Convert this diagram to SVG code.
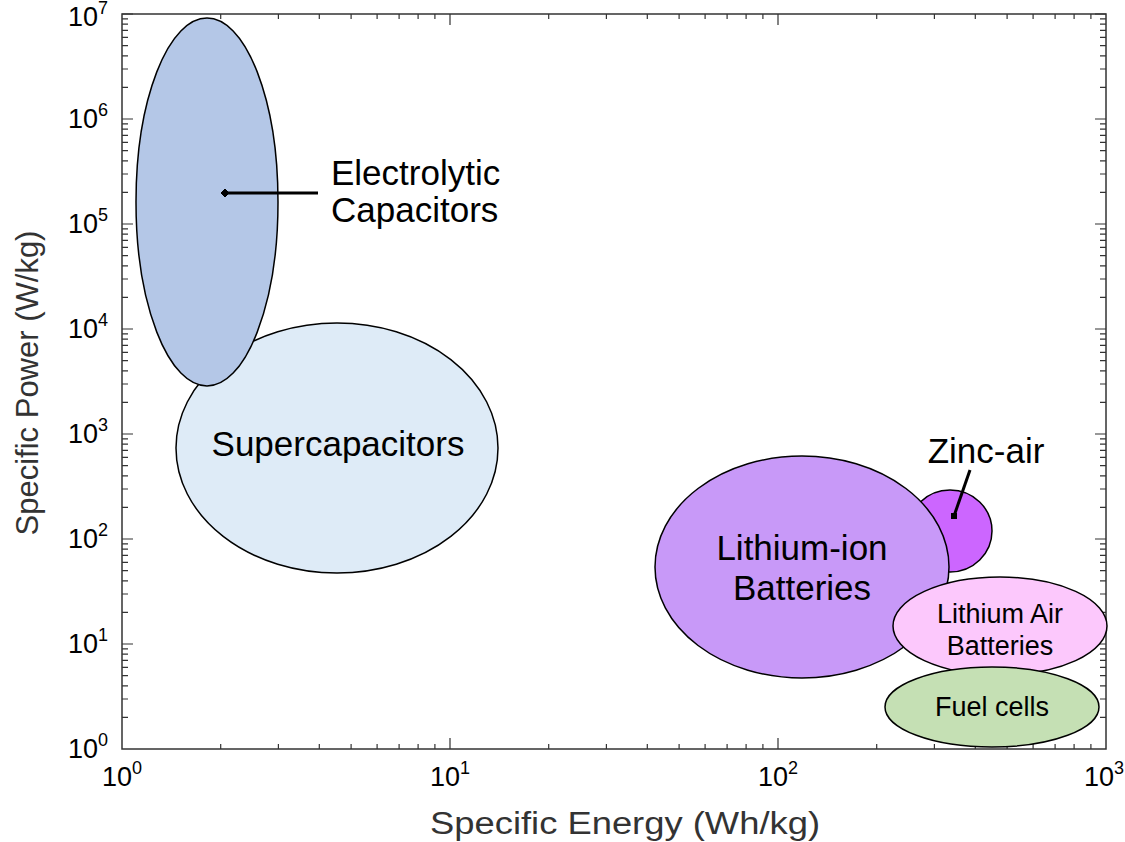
<svg xmlns="http://www.w3.org/2000/svg" width="1125" height="842" viewBox="0 0 1125 842">
<style>
text{font-family:"Liberation Sans",Arial,sans-serif;fill:#000}
.e{stroke:#000;stroke-width:1.5}
.t{font-size:27px;fill:#222}
.ax{font-size:31px;fill:#333}
.tk{stroke:#333;stroke-width:1.2;fill:none}
.lb{font-size:35px}
.sm{font-size:27px}
</style>
<rect width="1125" height="842" fill="#fff"/>
<g id="axes">
<rect x="122" y="14" width="984" height="735" fill="none" stroke="#333" stroke-width="1.5"/>
<path class="tk" d="M220.7 749v-5M278.4 749v-5M319.3 749v-5M351.1 749v-5M377.1 749v-5M399.1 749v-5M418.1 749v-5M434.9 749v-5M450 749v-11M548.7 749v-5M606.4 749v-5M647.3 749v-5M679.1 749v-5M705.1 749v-5M727.1 749v-5M746.1 749v-5M762.9 749v-5M778 749v-11M876.7 749v-5M934.4 749v-5M975.3 749v-5M1007.1 749v-5M1033.1 749v-5M1055.1 749v-5M1074.1 749v-5M1090.9 749v-5
M220.7 14v5M278.4 14v5M319.3 14v5M351.1 14v5M377.1 14v5M399.1 14v5M418.1 14v5M434.9 14v5M450 14v11M548.7 14v5M606.4 14v5M647.3 14v5M679.1 14v5M705.1 14v5M727.1 14v5M746.1 14v5M762.9 14v5M778 14v11M876.7 14v5M934.4 14v5M975.3 14v5M1007.1 14v5M1033.1 14v5M1055.1 14v5M1074.1 14v5M1090.9 14v5"/>
<path id="yt" class="tk" d="M122 717.4h6M122 699h6M122 685.8h6M122 675.6h6M122 667.3h6M122 660.3h6M122 654.2h6M122 648.8h6M122 644h11"/>
<use href="#yt" transform="translate(0,-105)"/><use href="#yt" transform="translate(0,-210)"/><use href="#yt" transform="translate(0,-315)"/><use href="#yt" transform="translate(0,-420)"/><use href="#yt" transform="translate(0,-525)"/><use href="#yt" transform="translate(0,-630)"/>
<use href="#yt" transform="translate(1228,0) scale(-1,1)"/><use href="#yt" transform="translate(1228,-105) scale(-1,1)"/><use href="#yt" transform="translate(1228,-210) scale(-1,1)"/><use href="#yt" transform="translate(1228,-315) scale(-1,1)"/><use href="#yt" transform="translate(1228,-420) scale(-1,1)"/><use href="#yt" transform="translate(1228,-525) scale(-1,1)"/><use href="#yt" transform="translate(1228,-630) scale(-1,1)"/>
<g class="t" text-anchor="end">
<text x="108" y="758">10<tspan font-size="18" dy="-12">0</tspan></text>
<text x="108" y="653">10<tspan font-size="18" dy="-12">1</tspan></text>
<text x="108" y="548">10<tspan font-size="18" dy="-12">2</tspan></text>
<text x="108" y="443">10<tspan font-size="18" dy="-12">3</tspan></text>
<text x="108" y="338">10<tspan font-size="18" dy="-12">4</tspan></text>
<text x="108" y="233">10<tspan font-size="18" dy="-12">5</tspan></text>
<text x="108" y="128">10<tspan font-size="18" dy="-12">6</tspan></text>
<text x="108" y="26">10<tspan font-size="18" dy="-12">7</tspan></text>
</g>
<g class="t" text-anchor="middle">
<text x="122" y="786">10<tspan font-size="18" dy="-12">0</tspan></text>
<text x="450" y="786">10<tspan font-size="18" dy="-12">1</tspan></text>
<text x="778" y="786">10<tspan font-size="18" dy="-12">2</tspan></text>
<text x="1104" y="786">10<tspan font-size="18" dy="-12">3</tspan></text>
</g>
<text class="ax" x="430" y="834" textLength="390" lengthAdjust="spacingAndGlyphs">Specific Energy (Wh/kg)</text>
<text class="ax" transform="translate(38,383) rotate(-90)" text-anchor="middle">Specific Power (W/kg)</text>
</g>
<g id="supercapacitors"><ellipse class="e" cx="337" cy="448" rx="161" ry="125" fill="#deebf7"/><text class="lb" x="338" y="456" text-anchor="middle">Supercapacitors</text></g>
<g id="electrolytic"><ellipse class="e" cx="207" cy="202" rx="71" ry="184" fill="#b4c7e7"/></g>
<g id="zincair"><ellipse class="e" cx="950" cy="531" rx="42" ry="41" fill="#cc66ff"/></g>
<g id="lithiumion"><ellipse class="e" cx="802" cy="567" rx="147" ry="111" fill="#c899f8"/><text class="lb" x="802" y="560" text-anchor="middle">Lithium-ion</text><text class="lb" x="802" y="600" text-anchor="middle">Batteries</text></g>
<g id="lithiumair"><ellipse class="e" cx="1000" cy="626" rx="107" ry="49" fill="#fcc8fc"/><text class="sm" x="1000" y="623" text-anchor="middle">Lithium Air</text><text class="sm" x="1000" y="655" text-anchor="middle">Batteries</text></g>
<g id="fuelcells"><ellipse class="e" cx="992" cy="707" rx="107" ry="40" fill="#c5e0b4"/><text class="sm" x="992" y="716" text-anchor="middle">Fuel cells</text></g>
<g id="connectors" stroke="#000" stroke-width="3">
<path d="M225 193H318"/><path d="M225 189l4 4-4 4-4-4z" fill="#000" stroke-width="1"/>
<path d="M970 470L954 516"/><rect x="951" y="513" width="6" height="6" fill="#000" stroke="none"/>
</g>
<g id="labels">
<text class="lb" x="331" y="185">Electrolytic</text><text class="lb" x="331" y="222">Capacitors</text>
<text class="lb" x="986" y="463" text-anchor="middle">Zinc-air</text>
</g>
</svg>
